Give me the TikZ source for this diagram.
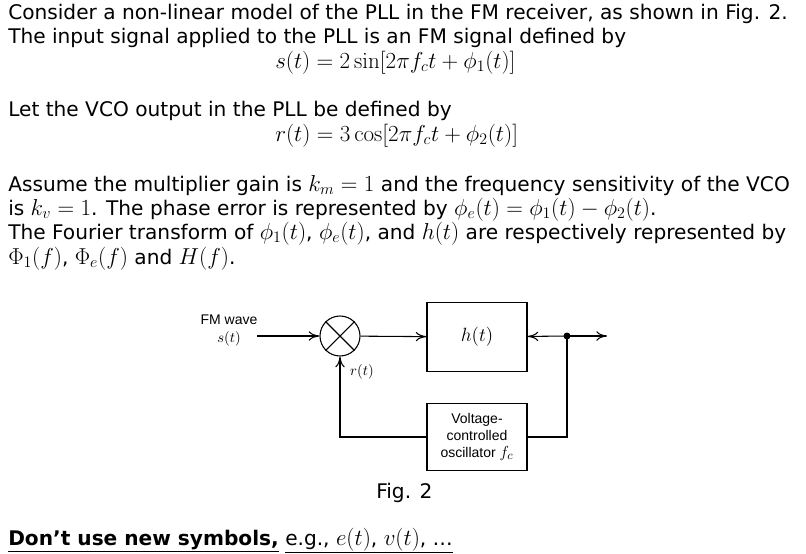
\documentclass[tikz,border=0pt]{standalone}
\usepackage[no-math]{fontspec}
\setmainfont{DejaVu Sans}
\newfontfamily\figfont{Liberation Sans}
\usetikzlibrary{arrows.meta}
\newcommand\mymath[1]{{\fontsize{17}{18}\selectfont$#1$}}
\begin{document}
\begin{tikzpicture}[x=0.75pt,y=-0.75pt,
  txt/.style={anchor=base west,inner sep=0pt,font=\fontsize{15.1}{18}\selectfont},
  box/.style={draw,thick,minimum width=75pt,inner sep=0pt,font=\figfont\fontsize{10.5}{12.5}\selectfont,align=center},
  sig/.style={thick,-{To[length=8pt,width=7pt]}},
  lbl/.style={inner sep=0pt,font=\fontsize{11}{13}\selectfont}]
\useasboundingbox (0,0) rectangle (806,553);
\node[txt] (l1) at (8,19) {Consider a non-linear model of the PLL in the FM receiver, as shown in Fig. 2.};
\node[txt] (l2) at (8,43) {The input signal applied to the PLL is an FM signal defined by};
\node[txt] (l3) at (275,68) {\mymath{s(t)=2\sin[2\pi f_c t+\phi_1(t)]}};
\node[txt] (l4) at (8,116) {Let the VCO output in the PLL be defined by};
\node[txt] (l5) at (275,141) {\mymath{r(t)=3\cos[2\pi f_c t+\phi_2(t)]}};
\node[txt] (l6) at (8,191) {Assume the multiplier gain is \mymath{k_m=1} and the frequency sensitivity of the VCO};
\node[txt] (l7) at (8,215) {is \mymath{k_v=1}. The phase error is represented by \mymath{\phi_e(t)=\phi_1(t)-\phi_2(t)}.};
\node[txt] (l8) at (8,239) {The Fourier transform of \mymath{\phi_1(t)}, \mymath{\phi_e(t)}, and \mymath{h(t)} are respectively represented by};
\node[txt] (l9) at (8,264) {\mymath{\Phi_1(f)}, \mymath{\Phi_e(f)} and \mymath{H(f)}.};
\node[txt] (fig) at (376,498) {Fig. 2};
\node[txt] (l10) at (8,545) {\underline{\textbf{Don’t use new symbols,}} \underline{e.g., \mymath{e(t)}, \mymath{v(t)}, \dots}};
% diagram
\node[draw,thick,circle,minimum size=30pt,inner sep=0pt] (mix) at (340,336) {};
\draw[thick] (mix.north west) -- (mix.south east) (mix.north east) -- (mix.south west);
\node[box,minimum height=52pt] (h) at (477,337) {\fontsize{14}{16}\selectfont$h(t)$};
\node[box,minimum height=50pt] (vco) at (477,437) {Voltage-\\controlled\\oscillator \fontsize{13}{14}\selectfont$f_c$};
\node[lbl,font=\figfont\fontsize{10.5}{12}\selectfont] (fm) at (229,320) {FM wave};
\node[lbl] (st) at (229,339) {$s(t)$};
\coordinate (in) at (257,336);
\coordinate (j) at (567,336);
\coordinate (out) at (607,336);
\coordinate (c1) at (567,437);
\coordinate (c2) at (340,437);
\node[lbl] (rt) at (362,372) {$r(t)$};
\draw[sig] (in) -- (mix);
\draw[sig] (mix) -- (h);
\draw[sig] (j) -- (h);
\draw[sig] (j) -- (out);
\draw[thick] (j) -- (c1) -- (vco.east);
\draw[sig] (vco.west) -- (c2) -- (mix);
\fill (j) circle (3.5);
\end{tikzpicture}
\end{document}
